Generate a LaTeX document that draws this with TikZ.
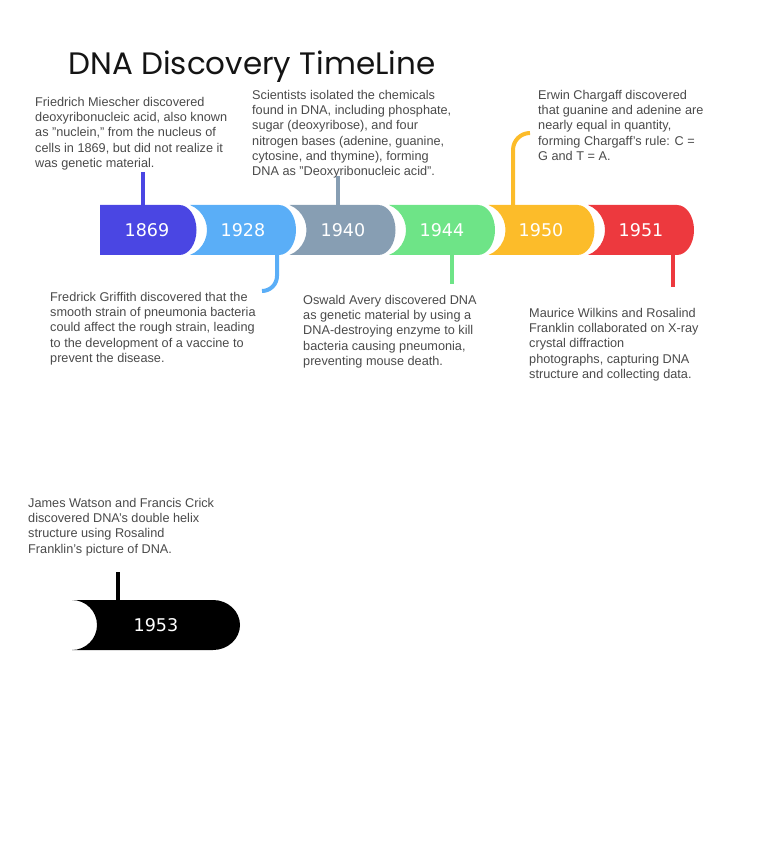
\documentclass[tikz,border=0pt]{standalone}
\usepackage{fontspec}
\setmainfont{Liberation Sans}
\newfontfamily\titlefont{Poppins}
\newfontfamily\yearfont{DejaVu Sans}
\usepackage{tikz}

\definecolor{c1869}{RGB}{74,70,227}
\definecolor{c1928}{RGB}{90,174,247}
\definecolor{c1940}{RGB}{135,158,179}
\definecolor{c1944}{RGB}{110,228,135}
\definecolor{c1950}{RGB}{252,188,42}
\definecolor{c1951}{RGB}{237,57,62}
\definecolor{notegray}{RGB}{74,74,74}
\definecolor{titleblack}{RGB}{20,20,20}

\begin{document}
\begin{tikzpicture}%[x=1pt, y=1pt]
  [x=1pt, y=1pt,
   year/.style={text=white, inner sep=0, font=\yearfont\fontsize{17.5}{20}\selectfont},
   note/.style={anchor=north west, align=left, inner sep=0, text=notegray, font=\fontsize{12.7}{15.25}\selectfont},
   link/.style={line width=4pt}]

\useasboundingbox (0,0) rectangle (768,-866);

%%%  title
\node [anchor=base west, text=titleblack, font=\titlefont\fontsize{31}{35}\selectfont] (title) at (65,-75) {DNA Discovery TimeLine};

%%%  bars

% first bar has a flat left end
\fill [c1869] (100,-205) -- (179.5,-205) arc[start angle=90, end angle=-90, x radius=17, y radius=25] -- (100,-255) -- cycle;

% the others fit round the one before
\fill [c1928] (190,-205) -- (279,-205) arc[start angle=90, end angle=-90, x radius=17, y radius=25] -- (190,-255) arc[start angle=-68.4, end angle=68.4, radius=26.9] -- cycle;
\fill [c1940] (289.5,-205) -- (378.5,-205) arc[start angle=90, end angle=-90, x radius=17, y radius=25] -- (289.5,-255) arc[start angle=-68.4, end angle=68.4, radius=26.9] -- cycle;
\fill [c1944] (389,-205) -- (478,-205) arc[start angle=90, end angle=-90, x radius=17, y radius=25] -- (389,-255) arc[start angle=-68.4, end angle=68.4, radius=26.9] -- cycle;
\fill [c1950] (488.5,-205) -- (577.5,-205) arc[start angle=90, end angle=-90, x radius=17, y radius=25] -- (488.5,-255) arc[start angle=-68.4, end angle=68.4, radius=26.9] -- cycle;
\fill [c1951] (588,-205) -- (677,-205) arc[start angle=90, end angle=-90, x radius=17, y radius=25] -- (588,-255) arc[start angle=-68.4, end angle=68.4, radius=26.9] -- cycle;

% last bar, on its own
\fill [black] (72,-600) -- (213,-600) arc[start angle=90, end angle=-90, x radius=27, y radius=25] -- (72,-650) arc[start angle=-90, end angle=90, radius=25] -- cycle;

%%%  years
\node [year] (y1869) at (147,-230) {1869};
\node [year] (y1928) at (243,-230) {1928};
\node [year] (y1940) at (343,-230) {1940};
\node [year] (y1944) at (442,-230) {1944};
\node [year] (y1950) at (541,-230) {1950};
\node [year] (y1951) at (641,-230) {1951};
\node [year] (y1953) at (156,-625) {1953};

%%%  notes

% above the bars
\node [note] (t1869) at (35,-97) {Friedrich Miescher discovered\\deoxyribonucleic acid, also known\\as "nuclein," from the nucleus of\\cells in 1869, but did not realize it\\was genetic material.};
\node [note] (t1940) at (252,-90) {Scientists isolated the chemicals\\found in DNA, including phosphate,\\sugar (deoxyribose), and four\\nitrogen bases (adenine, guanine,\\cytosine, and thymine), forming\\DNA as "Deoxyribonucleic acid".};
\node [note] (t1950) at (538,-90) {Erwin Chargaff discovered\\that guanine and adenine are\\nearly equal in quantity,\\forming Chargaff's rule: C =\\G and T = A.};

% below the bars
\node [note] (t1928) at (50,-292) {Fredrick Griffith discovered that the\\smooth strain of pneumonia bacteria\\could affect the rough strain, leading\\to the development of a vaccine to\\prevent the disease.};
\node [note] (t1944) at (303,-295) {Oswald Avery discovered DNA\\as genetic material by using a\\DNA-destroying enzyme to kill\\bacteria causing pneumonia,\\preventing mouse death.};
\node [note] (t1951) at (529,-308) {Maurice Wilkins and Rosalind\\Franklin collaborated on X-ray\\crystal diffraction\\photographs, capturing DNA\\structure and collecting data.};

% last one
\node [note] (t1953) at (28,-498) {James Watson and Francis Crick\\discovered DNA's double helix\\structure using Rosalind\\Franklin's picture of DNA.};

%%%  link ends
\coordinate (a1869) at (143,-205);
\coordinate (b1869) at (143,-172);
\coordinate (a1928) at (277,-253);
\coordinate (b1928) at (262,-291);
\coordinate (a1940) at (338,-205);
\coordinate (b1940) at (338,-176);
\coordinate (a1944) at (452,-255);
\coordinate (b1944) at (452,-284);
\coordinate (a1950) at (513,-223);
\coordinate (b1950) at (530,-133);
\coordinate (a1951) at (673,-255);
\coordinate (b1951) at (673,-287);
\coordinate (a1953) at (118,-600);
\coordinate (b1953) at (118,-572);

%%%  links
\draw [link, c1869] (a1869) to (b1869);
\draw [link, c1928, rounded corners=15] (a1928) |- (b1928);
\draw [link, c1940] (a1940) to (b1940);
\draw [link, c1944] (a1944) to (b1944);
\draw [link, c1950, rounded corners=17] (a1950) |- (b1950);
\draw [link, c1951] (a1951) to (b1951);
\draw [link, black] (a1953) to (b1953);

\end{tikzpicture}
\end{document}
